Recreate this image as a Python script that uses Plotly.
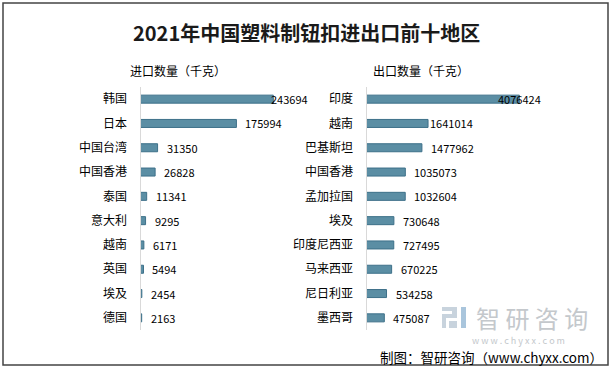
import plotly.graph_objects as go

title = "2021年中国塑料制钮扣进出口前十地区"
import_title = "进口数量（千克）"
export_title = "出口数量（千克）"

import_regions = ["韩国", "日本", "中国台湾", "中国香港", "泰国", "意大利", "越南", "英国", "埃及", "德国"]
import_values = [243694, 175994, 31350, 26828, 11341, 9295, 6171, 5494, 2454, 2163]

export_regions = ["印度", "越南", "巴基斯坦", "中国香港", "孟加拉国", "埃及", "印度尼西亚", "马来西亚", "尼日利亚", "墨西哥"]
export_values = [4076424, 1641014, 1477962, 1035073, 1032604, 730648, 727495, 670225, 534258, 475087]

# label pixel offsets (style only)
import_label_shift = {0: -11}
export_label_shift = {0: -30, 1: -7}

W, H = 613, 370
FONT = "Noto Sans CJK SC, Microsoft YaHei, sans-serif"
BAR = "#5b8ea4"
EDGE = "#3d7089"

fig = go.Figure()
fig.add_trace(go.Bar(y=import_regions, x=import_values, orientation="h",
                     marker=dict(color=BAR, line=dict(color=EDGE, width=1)),
                     xaxis="x", yaxis="y", width=0.33, hoverinfo="x+y"))
fig.add_trace(go.Bar(y=export_regions, x=export_values, orientation="h",
                     marker=dict(color=BAR, line=dict(color=EDGE, width=1)),
                     xaxis="x2", yaxis="y2", width=0.33, hoverinfo="x+y"))

ann = []
for i, (c, v) in enumerate(zip(import_regions, import_values)):
    ann.append(dict(x=v, y=c, xref="x", yref="y", text=str(v), showarrow=False,
                    xanchor="left", xshift=7 + import_label_shift.get(i, 0),
                    font=dict(size=11, color="#000", family=FONT)))
for i, (c, v) in enumerate(zip(export_regions, export_values)):
    ann.append(dict(x=v, y=c, xref="x2", yref="y2", text=str(v), showarrow=False,
                    xanchor="left", xshift=7 + export_label_shift.get(i, 0),
                    font=dict(size=11, color="#000", family=FONT)))

ann += [
    dict(x=306 / W, y=1 - 32 / H, xref="paper", yref="paper", text="<b>" + title + "</b>",
         showarrow=False, xanchor="center", yanchor="middle",
         font=dict(size=20, color="#1a1a1a", family=FONT)),
    dict(x=128 / W, y=1 - 70 / H, xref="paper", yref="paper", text=import_title,
         showarrow=False, xanchor="left", yanchor="middle",
         font=dict(size=12, color="#000", family=FONT)),
    dict(x=371 / W, y=1 - 70 / H, xref="paper", yref="paper", text=export_title,
         showarrow=False, xanchor="left", yanchor="middle",
         font=dict(size=12, color="#000", family=FONT)),
    dict(x=474 / W, y=1 - 317 / H, xref="paper", yref="paper", text="智 研 咨 询",
         showarrow=False, xanchor="left", yanchor="middle",
         font=dict(size=24, color="#c4c8cc", family=FONT)),
    dict(x=518 / W, y=1 - 340.5 / H, xref="paper", yref="paper", text="w w w . c h y x x . c o m",
         showarrow=False, xanchor="center", yanchor="middle",
         font=dict(size=9, color="#c4c8cc", family=FONT)),
    dict(x=605 / W, y=1 - 356.5 / H, xref="paper", yref="paper", text="制图：智研咨询（www.chyxx.com）",
         showarrow=False, xanchor="right", yanchor="middle",
         font=dict(size=13.5, color="#000", family=FONT)),
]

def prect(x0, x1, y0, y1, color):
    return dict(type="rect", xref="paper", yref="paper", x0=x0 / W, x1=x1 / W,
                y0=1 - y1 / H, y1=1 - y0 / H, line=dict(width=0), fillcolor=color, layer="below")

shapes = [
    dict(type="rect", xref="paper", yref="paper", x0=3 / W, x1=608 / W, y0=1 - 365 / H, y1=1 - 3 / H,
         line=dict(color="#444", width=1.5), fillcolor="rgba(0,0,0,0)", layer="below"),
    # watermark logo
    prect(442, 457, 307, 311, "#c8d3dd"),
    prect(452, 457, 307, 318, "#c8d3dd"),
    prect(442, 457, 314, 318, "#c8d3dd"),
    prect(442, 446, 314, 328, "#c8d3dd"),
    prect(449, 457, 321, 328, "#c8d3dd"),
    prect(461, 466, 307, 328, "#a9c5dc"),
]

ydom = [1 - 330 / H, 1 - 87 / H]
fig.update_layout(
    width=W, height=H, margin=dict(l=0, r=0, t=0, b=0),
    paper_bgcolor="white", plot_bgcolor="rgba(0,0,0,0)",
    showlegend=False, annotations=ann, shapes=shapes,
    font=dict(family=FONT, color="#000"),
    xaxis=dict(domain=[140.5 / W, 304 / W], range=[0, 300000], visible=False, fixedrange=True),
    xaxis2=dict(domain=[366.5 / W, 554 / W], range=[0, 5000000], visible=False, fixedrange=True),
    yaxis=dict(domain=ydom, anchor="x", autorange="reversed", showline=True, linecolor="#d9d9d9",
               linewidth=1, ticks="", showgrid=False, ticklabelstandoff=10, fixedrange=True,
               tickfont=dict(size=12, color="#000", family=FONT)),
    yaxis2=dict(domain=ydom, anchor="x2", autorange="reversed", showline=True, linecolor="#d9d9d9",
                linewidth=1, ticks="", showgrid=False, ticklabelstandoff=10, fixedrange=True,
                tickfont=dict(size=12, color="#000", family=FONT)),
)
fig.write_html("out.html", config={"displayModeBar": False})

# remove default page margin so the figure sits at the window's top-left corner
with open("out.html", encoding="utf-8") as f:
    html = f.read()
html = html.replace("<head>", "<head><style>html,body{margin:0;padding:0;overflow:hidden;}</style>", 1)
with open("out.html", "w", encoding="utf-8") as f:
    f.write(html)
